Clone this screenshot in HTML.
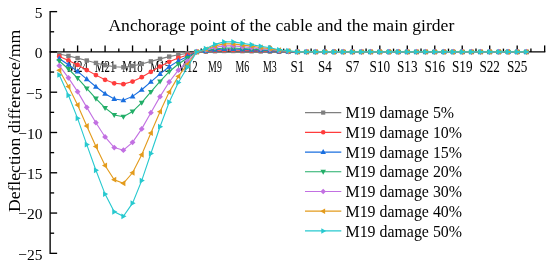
<!DOCTYPE html>
<html lang="en"><head><meta charset="utf-8"><title>Deflection difference chart</title>
<style>html,body{margin:0;padding:0;background:#fff}body{width:550px;height:270px;overflow:hidden}svg{display:block}</style>
</head><body>
<svg width="550" height="270" viewBox="0 0 550 270">
<rect width="550" height="270" fill="#ffffff"/>
<g font-family="'Liberation Serif', serif" font-size="16px" fill="#000" text-anchor="middle">
<text x="77.60" y="71.6" textLength="20.5" lengthAdjust="spacingAndGlyphs">M24</text>
<text x="105.08" y="71.6" textLength="20.5" lengthAdjust="spacingAndGlyphs">M21</text>
<text x="132.55" y="71.6" textLength="20.5" lengthAdjust="spacingAndGlyphs">M18</text>
<text x="160.03" y="71.6" textLength="20.5" lengthAdjust="spacingAndGlyphs">M15</text>
<text x="187.50" y="71.6" textLength="20.5" lengthAdjust="spacingAndGlyphs">M12</text>
<text x="214.97" y="71.6" textLength="13.7" lengthAdjust="spacingAndGlyphs">M9</text>
<text x="242.45" y="71.6" textLength="13.7" lengthAdjust="spacingAndGlyphs">M6</text>
<text x="269.92" y="71.6" textLength="13.7" lengthAdjust="spacingAndGlyphs">M3</text>
<text x="297.40" y="71.6" textLength="13.7" lengthAdjust="spacingAndGlyphs">S1</text>
<text x="324.87" y="71.6" textLength="13.7" lengthAdjust="spacingAndGlyphs">S4</text>
<text x="352.34" y="71.6" textLength="13.7" lengthAdjust="spacingAndGlyphs">S7</text>
<text x="379.82" y="71.6" textLength="20.5" lengthAdjust="spacingAndGlyphs">S10</text>
<text x="407.29" y="71.6" textLength="20.5" lengthAdjust="spacingAndGlyphs">S13</text>
<text x="434.77" y="71.6" textLength="20.5" lengthAdjust="spacingAndGlyphs">S16</text>
<text x="462.24" y="71.6" textLength="20.5" lengthAdjust="spacingAndGlyphs">S19</text>
<text x="489.71" y="71.6" textLength="20.5" lengthAdjust="spacingAndGlyphs">S22</text>
<text x="517.19" y="71.6" textLength="20.5" lengthAdjust="spacingAndGlyphs">S25</text>
</g>
<g stroke="#000" stroke-width="1.35" fill="none" stroke-linecap="butt">
<path d="M50.13 10.95V254.03"/>
<path d="M49.45 51.92H545.34"/>
<path d="M50.13 11.63h7"/>
<path d="M50.13 51.92h7"/>
<path d="M50.13 92.21h7"/>
<path d="M50.13 132.49h7"/>
<path d="M50.13 172.78h7"/>
<path d="M50.13 213.06h7"/>
<path d="M50.13 253.35h7"/>
<path d="M50.13 31.78h4"/>
<path d="M50.13 72.06h4"/>
<path d="M50.13 112.35h4"/>
<path d="M50.13 152.63h4"/>
<path d="M50.13 192.92h4"/>
<path d="M50.13 233.20h4"/>
<path d="M77.60 51.92v-6.5"/>
<path d="M105.08 51.92v-6.5"/>
<path d="M132.55 51.92v-6.5"/>
<path d="M160.03 51.92v-6.5"/>
<path d="M187.50 51.92v-6.5"/>
<path d="M214.97 51.92v-6.5"/>
<path d="M242.45 51.92v-6.5"/>
<path d="M269.92 51.92v-6.5"/>
<path d="M297.40 51.92v-6.5"/>
<path d="M324.87 51.92v-6.5"/>
<path d="M352.34 51.92v-6.5"/>
<path d="M379.82 51.92v-6.5"/>
<path d="M407.29 51.92v-6.5"/>
<path d="M434.77 51.92v-6.5"/>
<path d="M462.24 51.92v-6.5"/>
<path d="M489.71 51.92v-6.5"/>
<path d="M517.19 51.92v-6.5"/>
<path d="M544.66 51.92v-6.5"/>
<path d="M63.87 51.92v-3.3"/>
<path d="M91.34 51.92v-3.3"/>
<path d="M118.81 51.92v-3.3"/>
<path d="M146.29 51.92v-3.3"/>
<path d="M173.76 51.92v-3.3"/>
<path d="M201.24 51.92v-3.3"/>
<path d="M228.71 51.92v-3.3"/>
<path d="M256.19 51.92v-3.3"/>
<path d="M283.66 51.92v-3.3"/>
<path d="M311.13 51.92v-3.3"/>
<path d="M338.61 51.92v-3.3"/>
<path d="M366.08 51.92v-3.3"/>
<path d="M393.55 51.92v-3.3"/>
<path d="M421.03 51.92v-3.3"/>
<path d="M448.50 51.92v-3.3"/>
<path d="M475.98 51.92v-3.3"/>
<path d="M503.45 51.92v-3.3"/>
<path d="M530.92 51.92v-3.3"/>
</g>
<g font-family="'Liberation Serif', serif" font-size="15.5px" fill="#000" text-anchor="end">
<text x="42.6" y="18.03">5</text>
<text x="42.6" y="58.32">0</text>
<text x="42.6" y="98.61">−5</text>
<text x="42.6" y="138.89">−10</text>
<text x="42.6" y="179.18">−15</text>
<text x="42.6" y="219.46">−20</text>
<text x="42.6" y="259.75">−25</text>
</g>
<text transform="translate(20,120.9) rotate(-90)" text-anchor="middle" font-family="'Liberation Serif', serif" font-size="17.65px" fill="#000">Deflection difference/mm</text>
<text x="108.4" y="31" font-family="'Liberation Serif', serif" font-size="17.6px" fill="#000">Anchorage point of the cable and the main girder</text>
<polyline fill="none" stroke="#7f7f7f" stroke-width="1.1" points="59.29,54.06 68.45,55.96 77.60,58.10 86.76,60.55 95.92,62.94 105.08,65.16 114.24,66.81 123.39,67.23 132.55,66.00 141.71,63.91 150.87,61.38 160.03,58.89 169.18,56.60 178.34,54.77 187.50,53.34 196.66,51.92 205.82,51.61 214.97,51.22 224.13,50.99 233.29,50.99 242.45,51.12 251.61,51.25 260.76,51.40 269.92,51.54 279.08,51.72 288.24,51.81 297.40,51.92 306.55,51.92 315.71,51.92 324.87,51.92 334.03,51.92 343.19,51.92 352.34,51.92 361.50,51.92 370.66,51.92 379.82,51.92 388.98,51.92 398.13,51.92 407.29,51.92 416.45,51.92 425.61,51.92 434.77,51.92 443.92,51.92 453.08,51.92 462.24,51.92 471.40,51.92 480.56,51.92 489.71,51.92 498.87,51.92 508.03,51.92 517.19,51.92 526.35,51.92"/>
<g><rect x="57.09" y="51.86" width="4.40" height="4.40" fill="#7f7f7f"/><rect x="66.25" y="53.76" width="4.40" height="4.40" fill="#7f7f7f"/><rect x="75.40" y="55.90" width="4.40" height="4.40" fill="#7f7f7f"/><rect x="84.56" y="58.35" width="4.40" height="4.40" fill="#7f7f7f"/><rect x="93.72" y="60.74" width="4.40" height="4.40" fill="#7f7f7f"/><rect x="102.88" y="62.96" width="4.40" height="4.40" fill="#7f7f7f"/><rect x="112.04" y="64.61" width="4.40" height="4.40" fill="#7f7f7f"/><rect x="121.19" y="65.03" width="4.40" height="4.40" fill="#7f7f7f"/><rect x="130.35" y="63.80" width="4.40" height="4.40" fill="#7f7f7f"/><rect x="139.51" y="61.71" width="4.40" height="4.40" fill="#7f7f7f"/><rect x="148.67" y="59.18" width="4.40" height="4.40" fill="#7f7f7f"/><rect x="157.83" y="56.69" width="4.40" height="4.40" fill="#7f7f7f"/><rect x="166.98" y="54.40" width="4.40" height="4.40" fill="#7f7f7f"/><rect x="176.14" y="52.57" width="4.40" height="4.40" fill="#7f7f7f"/><rect x="185.30" y="51.14" width="4.40" height="4.40" fill="#7f7f7f"/><rect x="194.46" y="49.72" width="4.40" height="4.40" fill="#7f7f7f"/><rect x="203.62" y="49.41" width="4.40" height="4.40" fill="#7f7f7f"/><rect x="212.77" y="49.02" width="4.40" height="4.40" fill="#7f7f7f"/><rect x="221.93" y="48.79" width="4.40" height="4.40" fill="#7f7f7f"/><rect x="231.09" y="48.79" width="4.40" height="4.40" fill="#7f7f7f"/><rect x="240.25" y="48.92" width="4.40" height="4.40" fill="#7f7f7f"/><rect x="249.41" y="49.05" width="4.40" height="4.40" fill="#7f7f7f"/><rect x="258.56" y="49.20" width="4.40" height="4.40" fill="#7f7f7f"/><rect x="267.72" y="49.34" width="4.40" height="4.40" fill="#7f7f7f"/><rect x="276.88" y="49.52" width="4.40" height="4.40" fill="#7f7f7f"/><rect x="286.04" y="49.61" width="4.40" height="4.40" fill="#7f7f7f"/><rect x="295.20" y="49.72" width="4.40" height="4.40" fill="#7f7f7f"/><rect x="304.35" y="49.72" width="4.40" height="4.40" fill="#7f7f7f"/><rect x="313.51" y="49.72" width="4.40" height="4.40" fill="#7f7f7f"/><rect x="322.67" y="49.72" width="4.40" height="4.40" fill="#7f7f7f"/><rect x="331.83" y="49.72" width="4.40" height="4.40" fill="#7f7f7f"/><rect x="340.99" y="49.72" width="4.40" height="4.40" fill="#7f7f7f"/><rect x="350.14" y="49.72" width="4.40" height="4.40" fill="#7f7f7f"/><rect x="359.30" y="49.72" width="4.40" height="4.40" fill="#7f7f7f"/><rect x="368.46" y="49.72" width="4.40" height="4.40" fill="#7f7f7f"/><rect x="377.62" y="49.72" width="4.40" height="4.40" fill="#7f7f7f"/><rect x="386.78" y="49.72" width="4.40" height="4.40" fill="#7f7f7f"/><rect x="395.93" y="49.72" width="4.40" height="4.40" fill="#7f7f7f"/><rect x="405.09" y="49.72" width="4.40" height="4.40" fill="#7f7f7f"/><rect x="414.25" y="49.72" width="4.40" height="4.40" fill="#7f7f7f"/><rect x="423.41" y="49.72" width="4.40" height="4.40" fill="#7f7f7f"/><rect x="432.57" y="49.72" width="4.40" height="4.40" fill="#7f7f7f"/><rect x="441.72" y="49.72" width="4.40" height="4.40" fill="#7f7f7f"/><rect x="450.88" y="49.72" width="4.40" height="4.40" fill="#7f7f7f"/><rect x="460.04" y="49.72" width="4.40" height="4.40" fill="#7f7f7f"/><rect x="469.20" y="49.72" width="4.40" height="4.40" fill="#7f7f7f"/><rect x="478.36" y="49.72" width="4.40" height="4.40" fill="#7f7f7f"/><rect x="487.51" y="49.72" width="4.40" height="4.40" fill="#7f7f7f"/><rect x="496.67" y="49.72" width="4.40" height="4.40" fill="#7f7f7f"/><rect x="505.83" y="49.72" width="4.40" height="4.40" fill="#7f7f7f"/><rect x="514.99" y="49.72" width="4.40" height="4.40" fill="#7f7f7f"/><rect x="524.15" y="49.72" width="4.40" height="4.40" fill="#7f7f7f"/></g>
<polyline fill="none" stroke="#ff3c3c" stroke-width="1.1" points="59.29,56.43 68.45,60.43 77.60,64.94 86.76,70.10 95.92,75.12 105.08,79.80 114.24,83.28 123.39,84.15 132.55,81.57 141.71,77.15 150.87,71.84 160.03,66.58 169.18,61.78 178.34,57.91 187.50,54.92 196.66,51.92 205.82,51.28 214.97,50.44 224.13,49.95 233.29,49.95 242.45,50.24 251.61,50.50 260.76,50.82 269.92,51.11 279.08,51.50 288.24,51.69 297.40,51.92 306.55,51.92 315.71,51.92 324.87,51.92 334.03,51.92 343.19,51.92 352.34,51.92 361.50,51.92 370.66,51.92 379.82,51.92 388.98,51.92 398.13,51.92 407.29,51.92 416.45,51.92 425.61,51.92 434.77,51.92 443.92,51.92 453.08,51.92 462.24,51.92 471.40,51.92 480.56,51.92 489.71,51.92 498.87,51.92 508.03,51.92 517.19,51.92 526.35,51.92"/>
<g><circle cx="59.29" cy="56.43" r="2.40" fill="#ff3c3c"/><circle cx="68.45" cy="60.43" r="2.40" fill="#ff3c3c"/><circle cx="77.60" cy="64.94" r="2.40" fill="#ff3c3c"/><circle cx="86.76" cy="70.10" r="2.40" fill="#ff3c3c"/><circle cx="95.92" cy="75.12" r="2.40" fill="#ff3c3c"/><circle cx="105.08" cy="79.80" r="2.40" fill="#ff3c3c"/><circle cx="114.24" cy="83.28" r="2.40" fill="#ff3c3c"/><circle cx="123.39" cy="84.15" r="2.40" fill="#ff3c3c"/><circle cx="132.55" cy="81.57" r="2.40" fill="#ff3c3c"/><circle cx="141.71" cy="77.15" r="2.40" fill="#ff3c3c"/><circle cx="150.87" cy="71.84" r="2.40" fill="#ff3c3c"/><circle cx="160.03" cy="66.58" r="2.40" fill="#ff3c3c"/><circle cx="169.18" cy="61.78" r="2.40" fill="#ff3c3c"/><circle cx="178.34" cy="57.91" r="2.40" fill="#ff3c3c"/><circle cx="187.50" cy="54.92" r="2.40" fill="#ff3c3c"/><circle cx="196.66" cy="51.92" r="2.40" fill="#ff3c3c"/><circle cx="205.82" cy="51.28" r="2.40" fill="#ff3c3c"/><circle cx="214.97" cy="50.44" r="2.40" fill="#ff3c3c"/><circle cx="224.13" cy="49.95" r="2.40" fill="#ff3c3c"/><circle cx="233.29" cy="49.95" r="2.40" fill="#ff3c3c"/><circle cx="242.45" cy="50.24" r="2.40" fill="#ff3c3c"/><circle cx="251.61" cy="50.50" r="2.40" fill="#ff3c3c"/><circle cx="260.76" cy="50.82" r="2.40" fill="#ff3c3c"/><circle cx="269.92" cy="51.11" r="2.40" fill="#ff3c3c"/><circle cx="279.08" cy="51.50" r="2.40" fill="#ff3c3c"/><circle cx="288.24" cy="51.69" r="2.40" fill="#ff3c3c"/><circle cx="297.40" cy="51.92" r="2.40" fill="#ff3c3c"/><circle cx="306.55" cy="51.92" r="2.40" fill="#ff3c3c"/><circle cx="315.71" cy="51.92" r="2.40" fill="#ff3c3c"/><circle cx="324.87" cy="51.92" r="2.40" fill="#ff3c3c"/><circle cx="334.03" cy="51.92" r="2.40" fill="#ff3c3c"/><circle cx="343.19" cy="51.92" r="2.40" fill="#ff3c3c"/><circle cx="352.34" cy="51.92" r="2.40" fill="#ff3c3c"/><circle cx="361.50" cy="51.92" r="2.40" fill="#ff3c3c"/><circle cx="370.66" cy="51.92" r="2.40" fill="#ff3c3c"/><circle cx="379.82" cy="51.92" r="2.40" fill="#ff3c3c"/><circle cx="388.98" cy="51.92" r="2.40" fill="#ff3c3c"/><circle cx="398.13" cy="51.92" r="2.40" fill="#ff3c3c"/><circle cx="407.29" cy="51.92" r="2.40" fill="#ff3c3c"/><circle cx="416.45" cy="51.92" r="2.40" fill="#ff3c3c"/><circle cx="425.61" cy="51.92" r="2.40" fill="#ff3c3c"/><circle cx="434.77" cy="51.92" r="2.40" fill="#ff3c3c"/><circle cx="443.92" cy="51.92" r="2.40" fill="#ff3c3c"/><circle cx="453.08" cy="51.92" r="2.40" fill="#ff3c3c"/><circle cx="462.24" cy="51.92" r="2.40" fill="#ff3c3c"/><circle cx="471.40" cy="51.92" r="2.40" fill="#ff3c3c"/><circle cx="480.56" cy="51.92" r="2.40" fill="#ff3c3c"/><circle cx="489.71" cy="51.92" r="2.40" fill="#ff3c3c"/><circle cx="498.87" cy="51.92" r="2.40" fill="#ff3c3c"/><circle cx="508.03" cy="51.92" r="2.40" fill="#ff3c3c"/><circle cx="517.19" cy="51.92" r="2.40" fill="#ff3c3c"/><circle cx="526.35" cy="51.92" r="2.40" fill="#ff3c3c"/></g>
<polyline fill="none" stroke="#1a6fdf" stroke-width="1.1" points="59.29,58.69 68.45,64.68 77.60,71.45 86.76,79.18 95.92,86.73 105.08,93.74 114.24,98.96 123.39,100.26 132.55,96.39 141.71,89.77 150.87,81.80 160.03,73.92 169.18,66.71 178.34,60.91 187.50,56.42 196.66,51.92 205.82,50.95 214.97,49.70 224.13,48.97 233.29,48.97 242.45,49.41 251.61,49.79 260.76,50.28 269.92,50.71 279.08,51.29 288.24,51.58 297.40,51.92 306.55,51.92 315.71,51.92 324.87,51.92 334.03,51.92 343.19,51.92 352.34,51.92 361.50,51.92 370.66,51.92 379.82,51.92 388.98,51.92 398.13,51.92 407.29,51.92 416.45,51.92 425.61,51.92 434.77,51.92 443.92,51.92 453.08,51.92 462.24,51.92 471.40,51.92 480.56,51.92 489.71,51.92 498.87,51.92 508.03,51.92 517.19,51.92 526.35,51.92"/>
<g><polygon points="59.29,55.59 62.19,60.69 56.39,60.69" fill="#1a6fdf"/><polygon points="68.45,61.58 71.35,66.68 65.55,66.68" fill="#1a6fdf"/><polygon points="77.60,68.35 80.50,73.45 74.70,73.45" fill="#1a6fdf"/><polygon points="86.76,76.08 89.66,81.18 83.86,81.18" fill="#1a6fdf"/><polygon points="95.92,83.63 98.82,88.73 93.02,88.73" fill="#1a6fdf"/><polygon points="105.08,90.64 107.98,95.74 102.18,95.74" fill="#1a6fdf"/><polygon points="114.24,95.86 117.14,100.96 111.34,100.96" fill="#1a6fdf"/><polygon points="123.39,97.16 126.29,102.26 120.49,102.26" fill="#1a6fdf"/><polygon points="132.55,93.29 135.45,98.39 129.65,98.39" fill="#1a6fdf"/><polygon points="141.71,86.67 144.61,91.77 138.81,91.77" fill="#1a6fdf"/><polygon points="150.87,78.70 153.77,83.80 147.97,83.80" fill="#1a6fdf"/><polygon points="160.03,70.82 162.93,75.92 157.13,75.92" fill="#1a6fdf"/><polygon points="169.18,63.61 172.08,68.71 166.28,68.71" fill="#1a6fdf"/><polygon points="178.34,57.81 181.24,62.91 175.44,62.91" fill="#1a6fdf"/><polygon points="187.50,53.32 190.40,58.42 184.60,58.42" fill="#1a6fdf"/><polygon points="196.66,48.82 199.56,53.92 193.76,53.92" fill="#1a6fdf"/><polygon points="205.82,47.85 208.72,52.95 202.92,52.95" fill="#1a6fdf"/><polygon points="214.97,46.60 217.87,51.70 212.07,51.70" fill="#1a6fdf"/><polygon points="224.13,45.87 227.03,50.97 221.23,50.97" fill="#1a6fdf"/><polygon points="233.29,45.87 236.19,50.97 230.39,50.97" fill="#1a6fdf"/><polygon points="242.45,46.31 245.35,51.41 239.55,51.41" fill="#1a6fdf"/><polygon points="251.61,46.69 254.51,51.79 248.71,51.79" fill="#1a6fdf"/><polygon points="260.76,47.18 263.66,52.28 257.86,52.28" fill="#1a6fdf"/><polygon points="269.92,47.61 272.82,52.71 267.02,52.71" fill="#1a6fdf"/><polygon points="279.08,48.19 281.98,53.29 276.18,53.29" fill="#1a6fdf"/><polygon points="288.24,48.48 291.14,53.58 285.34,53.58" fill="#1a6fdf"/><polygon points="297.40,48.82 300.30,53.92 294.50,53.92" fill="#1a6fdf"/><polygon points="306.55,48.82 309.45,53.92 303.65,53.92" fill="#1a6fdf"/><polygon points="315.71,48.82 318.61,53.92 312.81,53.92" fill="#1a6fdf"/><polygon points="324.87,48.82 327.77,53.92 321.97,53.92" fill="#1a6fdf"/><polygon points="334.03,48.82 336.93,53.92 331.13,53.92" fill="#1a6fdf"/><polygon points="343.19,48.82 346.09,53.92 340.29,53.92" fill="#1a6fdf"/><polygon points="352.34,48.82 355.24,53.92 349.44,53.92" fill="#1a6fdf"/><polygon points="361.50,48.82 364.40,53.92 358.60,53.92" fill="#1a6fdf"/><polygon points="370.66,48.82 373.56,53.92 367.76,53.92" fill="#1a6fdf"/><polygon points="379.82,48.82 382.72,53.92 376.92,53.92" fill="#1a6fdf"/><polygon points="388.98,48.82 391.88,53.92 386.08,53.92" fill="#1a6fdf"/><polygon points="398.13,48.82 401.03,53.92 395.23,53.92" fill="#1a6fdf"/><polygon points="407.29,48.82 410.19,53.92 404.39,53.92" fill="#1a6fdf"/><polygon points="416.45,48.82 419.35,53.92 413.55,53.92" fill="#1a6fdf"/><polygon points="425.61,48.82 428.51,53.92 422.71,53.92" fill="#1a6fdf"/><polygon points="434.77,48.82 437.67,53.92 431.87,53.92" fill="#1a6fdf"/><polygon points="443.92,48.82 446.82,53.92 441.02,53.92" fill="#1a6fdf"/><polygon points="453.08,48.82 455.98,53.92 450.18,53.92" fill="#1a6fdf"/><polygon points="462.24,48.82 465.14,53.92 459.34,53.92" fill="#1a6fdf"/><polygon points="471.40,48.82 474.30,53.92 468.50,53.92" fill="#1a6fdf"/><polygon points="480.56,48.82 483.46,53.92 477.66,53.92" fill="#1a6fdf"/><polygon points="489.71,48.82 492.61,53.92 486.81,53.92" fill="#1a6fdf"/><polygon points="498.87,48.82 501.77,53.92 495.97,53.92" fill="#1a6fdf"/><polygon points="508.03,48.82 510.93,53.92 505.13,53.92" fill="#1a6fdf"/><polygon points="517.19,48.82 520.09,53.92 514.29,53.92" fill="#1a6fdf"/><polygon points="526.35,48.82 529.25,53.92 523.45,53.92" fill="#1a6fdf"/></g>
<polyline fill="none" stroke="#22ae68" stroke-width="1.1" points="59.29,60.99 68.45,69.02 77.60,78.09 86.76,88.45 95.92,98.56 105.08,107.95 114.24,114.95 123.39,116.70 132.55,111.52 141.71,102.64 150.87,91.95 160.03,81.39 169.18,71.74 178.34,63.97 187.50,57.94 196.66,51.92 205.82,50.62 214.97,48.94 224.13,47.97 233.29,47.97 242.45,48.55 251.61,49.07 260.76,49.72 269.92,50.30 279.08,51.08 288.24,51.47 297.40,51.92 306.55,51.92 315.71,51.92 324.87,51.92 334.03,51.92 343.19,51.92 352.34,51.92 361.50,51.92 370.66,51.92 379.82,51.92 388.98,51.92 398.13,51.92 407.29,51.92 416.45,51.92 425.61,51.92 434.77,51.92 443.92,51.92 453.08,51.92 462.24,51.92 471.40,51.92 480.56,51.92 489.71,51.92 498.87,51.92 508.03,51.92 517.19,51.92 526.35,51.92"/>
<g><polygon points="59.29,64.09 62.19,58.99 56.39,58.99" fill="#22ae68"/><polygon points="68.45,72.12 71.35,67.02 65.55,67.02" fill="#22ae68"/><polygon points="77.60,81.19 80.50,76.09 74.70,76.09" fill="#22ae68"/><polygon points="86.76,91.55 89.66,86.45 83.86,86.45" fill="#22ae68"/><polygon points="95.92,101.66 98.82,96.56 93.02,96.56" fill="#22ae68"/><polygon points="105.08,111.05 107.98,105.95 102.18,105.95" fill="#22ae68"/><polygon points="114.24,118.05 117.14,112.95 111.34,112.95" fill="#22ae68"/><polygon points="123.39,119.80 126.29,114.70 120.49,114.70" fill="#22ae68"/><polygon points="132.55,114.62 135.45,109.52 129.65,109.52" fill="#22ae68"/><polygon points="141.71,105.74 144.61,100.64 138.81,100.64" fill="#22ae68"/><polygon points="150.87,95.05 153.77,89.95 147.97,89.95" fill="#22ae68"/><polygon points="160.03,84.49 162.93,79.39 157.13,79.39" fill="#22ae68"/><polygon points="169.18,74.84 172.08,69.74 166.28,69.74" fill="#22ae68"/><polygon points="178.34,67.07 181.24,61.97 175.44,61.97" fill="#22ae68"/><polygon points="187.50,61.04 190.40,55.94 184.60,55.94" fill="#22ae68"/><polygon points="196.66,55.02 199.56,49.92 193.76,49.92" fill="#22ae68"/><polygon points="205.82,53.72 208.72,48.62 202.92,48.62" fill="#22ae68"/><polygon points="214.97,52.04 217.87,46.94 212.07,46.94" fill="#22ae68"/><polygon points="224.13,51.07 227.03,45.97 221.23,45.97" fill="#22ae68"/><polygon points="233.29,51.07 236.19,45.97 230.39,45.97" fill="#22ae68"/><polygon points="242.45,51.65 245.35,46.55 239.55,46.55" fill="#22ae68"/><polygon points="251.61,52.17 254.51,47.07 248.71,47.07" fill="#22ae68"/><polygon points="260.76,52.82 263.66,47.72 257.86,47.72" fill="#22ae68"/><polygon points="269.92,53.40 272.82,48.30 267.02,48.30" fill="#22ae68"/><polygon points="279.08,54.18 281.98,49.08 276.18,49.08" fill="#22ae68"/><polygon points="288.24,54.57 291.14,49.47 285.34,49.47" fill="#22ae68"/><polygon points="297.40,55.02 300.30,49.92 294.50,49.92" fill="#22ae68"/><polygon points="306.55,55.02 309.45,49.92 303.65,49.92" fill="#22ae68"/><polygon points="315.71,55.02 318.61,49.92 312.81,49.92" fill="#22ae68"/><polygon points="324.87,55.02 327.77,49.92 321.97,49.92" fill="#22ae68"/><polygon points="334.03,55.02 336.93,49.92 331.13,49.92" fill="#22ae68"/><polygon points="343.19,55.02 346.09,49.92 340.29,49.92" fill="#22ae68"/><polygon points="352.34,55.02 355.24,49.92 349.44,49.92" fill="#22ae68"/><polygon points="361.50,55.02 364.40,49.92 358.60,49.92" fill="#22ae68"/><polygon points="370.66,55.02 373.56,49.92 367.76,49.92" fill="#22ae68"/><polygon points="379.82,55.02 382.72,49.92 376.92,49.92" fill="#22ae68"/><polygon points="388.98,55.02 391.88,49.92 386.08,49.92" fill="#22ae68"/><polygon points="398.13,55.02 401.03,49.92 395.23,49.92" fill="#22ae68"/><polygon points="407.29,55.02 410.19,49.92 404.39,49.92" fill="#22ae68"/><polygon points="416.45,55.02 419.35,49.92 413.55,49.92" fill="#22ae68"/><polygon points="425.61,55.02 428.51,49.92 422.71,49.92" fill="#22ae68"/><polygon points="434.77,55.02 437.67,49.92 431.87,49.92" fill="#22ae68"/><polygon points="443.92,55.02 446.82,49.92 441.02,49.92" fill="#22ae68"/><polygon points="453.08,55.02 455.98,49.92 450.18,49.92" fill="#22ae68"/><polygon points="462.24,55.02 465.14,49.92 459.34,49.92" fill="#22ae68"/><polygon points="471.40,55.02 474.30,49.92 468.50,49.92" fill="#22ae68"/><polygon points="480.56,55.02 483.46,49.92 477.66,49.92" fill="#22ae68"/><polygon points="489.71,55.02 492.61,49.92 486.81,49.92" fill="#22ae68"/><polygon points="498.87,55.02 501.77,49.92 495.97,49.92" fill="#22ae68"/><polygon points="508.03,55.02 510.93,49.92 505.13,49.92" fill="#22ae68"/><polygon points="517.19,55.02 520.09,49.92 514.29,49.92" fill="#22ae68"/><polygon points="526.35,55.02 529.25,49.92 523.45,49.92" fill="#22ae68"/></g>
<polyline fill="none" stroke="#c270e2" stroke-width="1.1" points="59.29,65.68 68.45,77.87 77.60,91.63 86.76,107.36 95.92,122.69 105.08,136.95 114.24,147.56 123.39,150.22 132.55,142.35 141.71,128.89 150.87,112.67 160.03,96.64 169.18,82.00 178.34,70.20 187.50,61.06 196.66,51.92 205.82,49.95 214.97,47.40 224.13,45.92 233.29,45.92 242.45,46.81 251.61,47.60 260.76,48.58 269.92,49.46 279.08,50.64 288.24,51.23 297.40,51.92 306.55,51.92 315.71,51.92 324.87,51.92 334.03,51.92 343.19,51.92 352.34,51.92 361.50,51.92 370.66,51.92 379.82,51.92 388.98,51.92 398.13,51.92 407.29,51.92 416.45,51.92 425.61,51.92 434.77,51.92 443.92,51.92 453.08,51.92 462.24,51.92 471.40,51.92 480.56,51.92 489.71,51.92 498.87,51.92 508.03,51.92 517.19,51.92 526.35,51.92"/>
<g><polygon points="59.29,62.78 62.19,65.68 59.29,68.58 56.39,65.68" fill="#c270e2"/><polygon points="68.45,74.97 71.35,77.87 68.45,80.77 65.55,77.87" fill="#c270e2"/><polygon points="77.60,88.73 80.50,91.63 77.60,94.53 74.70,91.63" fill="#c270e2"/><polygon points="86.76,104.46 89.66,107.36 86.76,110.26 83.86,107.36" fill="#c270e2"/><polygon points="95.92,119.79 98.82,122.69 95.92,125.59 93.02,122.69" fill="#c270e2"/><polygon points="105.08,134.05 107.98,136.95 105.08,139.85 102.18,136.95" fill="#c270e2"/><polygon points="114.24,144.66 117.14,147.56 114.24,150.46 111.34,147.56" fill="#c270e2"/><polygon points="123.39,147.32 126.29,150.22 123.39,153.12 120.49,150.22" fill="#c270e2"/><polygon points="132.55,139.45 135.45,142.35 132.55,145.25 129.65,142.35" fill="#c270e2"/><polygon points="141.71,125.99 144.61,128.89 141.71,131.79 138.81,128.89" fill="#c270e2"/><polygon points="150.87,109.77 153.77,112.67 150.87,115.57 147.97,112.67" fill="#c270e2"/><polygon points="160.03,93.74 162.93,96.64 160.03,99.54 157.13,96.64" fill="#c270e2"/><polygon points="169.18,79.10 172.08,82.00 169.18,84.90 166.28,82.00" fill="#c270e2"/><polygon points="178.34,67.30 181.24,70.20 178.34,73.10 175.44,70.20" fill="#c270e2"/><polygon points="187.50,58.16 190.40,61.06 187.50,63.96 184.60,61.06" fill="#c270e2"/><polygon points="196.66,49.02 199.56,51.92 196.66,54.82 193.76,51.92" fill="#c270e2"/><polygon points="205.82,47.05 208.72,49.95 205.82,52.85 202.92,49.95" fill="#c270e2"/><polygon points="214.97,44.50 217.87,47.40 214.97,50.30 212.07,47.40" fill="#c270e2"/><polygon points="224.13,43.02 227.03,45.92 224.13,48.82 221.23,45.92" fill="#c270e2"/><polygon points="233.29,43.02 236.19,45.92 233.29,48.82 230.39,45.92" fill="#c270e2"/><polygon points="242.45,43.91 245.35,46.81 242.45,49.71 239.55,46.81" fill="#c270e2"/><polygon points="251.61,44.70 254.51,47.60 251.61,50.50 248.71,47.60" fill="#c270e2"/><polygon points="260.76,45.68 263.66,48.58 260.76,51.48 257.86,48.58" fill="#c270e2"/><polygon points="269.92,46.56 272.82,49.46 269.92,52.36 267.02,49.46" fill="#c270e2"/><polygon points="279.08,47.74 281.98,50.64 279.08,53.54 276.18,50.64" fill="#c270e2"/><polygon points="288.24,48.33 291.14,51.23 288.24,54.13 285.34,51.23" fill="#c270e2"/><polygon points="297.40,49.02 300.30,51.92 297.40,54.82 294.50,51.92" fill="#c270e2"/><polygon points="306.55,49.02 309.45,51.92 306.55,54.82 303.65,51.92" fill="#c270e2"/><polygon points="315.71,49.02 318.61,51.92 315.71,54.82 312.81,51.92" fill="#c270e2"/><polygon points="324.87,49.02 327.77,51.92 324.87,54.82 321.97,51.92" fill="#c270e2"/><polygon points="334.03,49.02 336.93,51.92 334.03,54.82 331.13,51.92" fill="#c270e2"/><polygon points="343.19,49.02 346.09,51.92 343.19,54.82 340.29,51.92" fill="#c270e2"/><polygon points="352.34,49.02 355.24,51.92 352.34,54.82 349.44,51.92" fill="#c270e2"/><polygon points="361.50,49.02 364.40,51.92 361.50,54.82 358.60,51.92" fill="#c270e2"/><polygon points="370.66,49.02 373.56,51.92 370.66,54.82 367.76,51.92" fill="#c270e2"/><polygon points="379.82,49.02 382.72,51.92 379.82,54.82 376.92,51.92" fill="#c270e2"/><polygon points="388.98,49.02 391.88,51.92 388.98,54.82 386.08,51.92" fill="#c270e2"/><polygon points="398.13,49.02 401.03,51.92 398.13,54.82 395.23,51.92" fill="#c270e2"/><polygon points="407.29,49.02 410.19,51.92 407.29,54.82 404.39,51.92" fill="#c270e2"/><polygon points="416.45,49.02 419.35,51.92 416.45,54.82 413.55,51.92" fill="#c270e2"/><polygon points="425.61,49.02 428.51,51.92 425.61,54.82 422.71,51.92" fill="#c270e2"/><polygon points="434.77,49.02 437.67,51.92 434.77,54.82 431.87,51.92" fill="#c270e2"/><polygon points="443.92,49.02 446.82,51.92 443.92,54.82 441.02,51.92" fill="#c270e2"/><polygon points="453.08,49.02 455.98,51.92 453.08,54.82 450.18,51.92" fill="#c270e2"/><polygon points="462.24,49.02 465.14,51.92 462.24,54.82 459.34,51.92" fill="#c270e2"/><polygon points="471.40,49.02 474.30,51.92 471.40,54.82 468.50,51.92" fill="#c270e2"/><polygon points="480.56,49.02 483.46,51.92 480.56,54.82 477.66,51.92" fill="#c270e2"/><polygon points="489.71,49.02 492.61,51.92 489.71,54.82 486.81,51.92" fill="#c270e2"/><polygon points="498.87,49.02 501.77,51.92 498.87,54.82 495.97,51.92" fill="#c270e2"/><polygon points="508.03,49.02 510.93,51.92 508.03,54.82 505.13,51.92" fill="#c270e2"/><polygon points="517.19,49.02 520.09,51.92 517.19,54.82 514.29,51.92" fill="#c270e2"/><polygon points="526.35,49.02 529.25,51.92 526.35,54.82 523.45,51.92" fill="#c270e2"/></g>
<polyline fill="none" stroke="#e39b1c" stroke-width="1.1" points="59.29,70.31 68.45,86.59 77.60,104.98 86.76,125.99 95.92,146.48 105.08,165.52 114.24,179.70 123.39,183.25 132.55,172.74 141.71,154.75 150.87,133.08 160.03,111.67 169.18,92.11 178.34,76.35 187.50,64.13 196.66,51.92 205.82,49.29 214.97,45.88 224.13,43.91 233.29,43.91 242.45,45.09 251.61,46.14 260.76,47.45 269.92,48.64 279.08,50.21 288.24,51.00 297.40,51.92 306.55,51.92 315.71,51.92 324.87,51.92 334.03,51.92 343.19,51.92 352.34,51.92 361.50,51.92 370.66,51.92 379.82,51.92 388.98,51.92 398.13,51.92 407.29,51.92 416.45,51.92 425.61,51.92 434.77,51.92 443.92,51.92 453.08,51.92 462.24,51.92 471.40,51.92 480.56,51.92 489.71,51.92 498.87,51.92 508.03,51.92 517.19,51.92 526.35,51.92"/>
<g><polygon points="56.19,70.31 61.29,67.41 61.29,73.21" fill="#e39b1c"/><polygon points="65.35,86.59 70.45,83.69 70.45,89.49" fill="#e39b1c"/><polygon points="74.50,104.98 79.60,102.08 79.60,107.88" fill="#e39b1c"/><polygon points="83.66,125.99 88.76,123.09 88.76,128.89" fill="#e39b1c"/><polygon points="92.82,146.48 97.92,143.58 97.92,149.38" fill="#e39b1c"/><polygon points="101.98,165.52 107.08,162.62 107.08,168.42" fill="#e39b1c"/><polygon points="111.14,179.70 116.24,176.80 116.24,182.60" fill="#e39b1c"/><polygon points="120.29,183.25 125.39,180.35 125.39,186.15" fill="#e39b1c"/><polygon points="129.45,172.74 134.55,169.84 134.55,175.64" fill="#e39b1c"/><polygon points="138.61,154.75 143.71,151.85 143.71,157.65" fill="#e39b1c"/><polygon points="147.77,133.08 152.87,130.18 152.87,135.98" fill="#e39b1c"/><polygon points="156.93,111.67 162.03,108.77 162.03,114.57" fill="#e39b1c"/><polygon points="166.08,92.11 171.18,89.21 171.18,95.01" fill="#e39b1c"/><polygon points="175.24,76.35 180.34,73.45 180.34,79.25" fill="#e39b1c"/><polygon points="184.40,64.13 189.50,61.23 189.50,67.03" fill="#e39b1c"/><polygon points="193.56,51.92 198.66,49.02 198.66,54.82" fill="#e39b1c"/><polygon points="202.72,49.29 207.82,46.39 207.82,52.19" fill="#e39b1c"/><polygon points="211.87,45.88 216.97,42.98 216.97,48.78" fill="#e39b1c"/><polygon points="221.03,43.91 226.13,41.01 226.13,46.81" fill="#e39b1c"/><polygon points="230.19,43.91 235.29,41.01 235.29,46.81" fill="#e39b1c"/><polygon points="239.35,45.09 244.45,42.19 244.45,47.99" fill="#e39b1c"/><polygon points="248.51,46.14 253.61,43.24 253.61,49.04" fill="#e39b1c"/><polygon points="257.66,47.45 262.76,44.55 262.76,50.35" fill="#e39b1c"/><polygon points="266.82,48.64 271.92,45.74 271.92,51.54" fill="#e39b1c"/><polygon points="275.98,50.21 281.08,47.31 281.08,53.11" fill="#e39b1c"/><polygon points="285.14,51.00 290.24,48.10 290.24,53.90" fill="#e39b1c"/><polygon points="294.30,51.92 299.40,49.02 299.40,54.82" fill="#e39b1c"/><polygon points="303.45,51.92 308.55,49.02 308.55,54.82" fill="#e39b1c"/><polygon points="312.61,51.92 317.71,49.02 317.71,54.82" fill="#e39b1c"/><polygon points="321.77,51.92 326.87,49.02 326.87,54.82" fill="#e39b1c"/><polygon points="330.93,51.92 336.03,49.02 336.03,54.82" fill="#e39b1c"/><polygon points="340.09,51.92 345.19,49.02 345.19,54.82" fill="#e39b1c"/><polygon points="349.24,51.92 354.34,49.02 354.34,54.82" fill="#e39b1c"/><polygon points="358.40,51.92 363.50,49.02 363.50,54.82" fill="#e39b1c"/><polygon points="367.56,51.92 372.66,49.02 372.66,54.82" fill="#e39b1c"/><polygon points="376.72,51.92 381.82,49.02 381.82,54.82" fill="#e39b1c"/><polygon points="385.88,51.92 390.98,49.02 390.98,54.82" fill="#e39b1c"/><polygon points="395.03,51.92 400.13,49.02 400.13,54.82" fill="#e39b1c"/><polygon points="404.19,51.92 409.29,49.02 409.29,54.82" fill="#e39b1c"/><polygon points="413.35,51.92 418.45,49.02 418.45,54.82" fill="#e39b1c"/><polygon points="422.51,51.92 427.61,49.02 427.61,54.82" fill="#e39b1c"/><polygon points="431.67,51.92 436.77,49.02 436.77,54.82" fill="#e39b1c"/><polygon points="440.82,51.92 445.92,49.02 445.92,54.82" fill="#e39b1c"/><polygon points="449.98,51.92 455.08,49.02 455.08,54.82" fill="#e39b1c"/><polygon points="459.14,51.92 464.24,49.02 464.24,54.82" fill="#e39b1c"/><polygon points="468.30,51.92 473.40,49.02 473.40,54.82" fill="#e39b1c"/><polygon points="477.46,51.92 482.56,49.02 482.56,54.82" fill="#e39b1c"/><polygon points="486.61,51.92 491.71,49.02 491.71,54.82" fill="#e39b1c"/><polygon points="495.77,51.92 500.87,49.02 500.87,54.82" fill="#e39b1c"/><polygon points="504.93,51.92 510.03,49.02 510.03,54.82" fill="#e39b1c"/><polygon points="514.09,51.92 519.19,49.02 519.19,54.82" fill="#e39b1c"/><polygon points="523.25,51.92 528.35,49.02 528.35,54.82" fill="#e39b1c"/></g>
<polyline fill="none" stroke="#27c9cf" stroke-width="1.1" points="59.29,74.93 68.45,95.31 77.60,118.32 86.76,144.62 95.92,170.26 105.08,194.09 114.24,211.85 123.39,216.28 132.55,203.13 141.71,180.62 150.87,153.50 160.03,126.71 169.18,102.22 178.34,82.49 187.50,67.21 196.66,51.92 205.82,48.63 214.97,44.36 224.13,41.89 233.29,41.89 242.45,43.37 251.61,44.69 260.76,46.33 269.92,47.81 279.08,49.78 288.24,50.77 297.40,51.92 306.55,51.92 315.71,51.92 324.87,51.92 334.03,51.92 343.19,51.92 352.34,51.92 361.50,51.92 370.66,51.92 379.82,51.92 388.98,51.92 398.13,51.92 407.29,51.92 416.45,51.92 425.61,51.92 434.77,51.92 443.92,51.92 453.08,51.92 462.24,51.92 471.40,51.92 480.56,51.92 489.71,51.92 498.87,51.92 508.03,51.92 517.19,51.92 526.35,51.92"/>
<g><polygon points="62.39,74.93 57.29,72.03 57.29,77.83" fill="#27c9cf"/><polygon points="71.55,95.31 66.45,92.41 66.45,98.21" fill="#27c9cf"/><polygon points="80.70,118.32 75.60,115.42 75.60,121.22" fill="#27c9cf"/><polygon points="89.86,144.62 84.76,141.72 84.76,147.52" fill="#27c9cf"/><polygon points="99.02,170.26 93.92,167.36 93.92,173.16" fill="#27c9cf"/><polygon points="108.18,194.09 103.08,191.19 103.08,196.99" fill="#27c9cf"/><polygon points="117.34,211.85 112.24,208.95 112.24,214.75" fill="#27c9cf"/><polygon points="126.49,216.28 121.39,213.38 121.39,219.18" fill="#27c9cf"/><polygon points="135.65,203.13 130.55,200.23 130.55,206.03" fill="#27c9cf"/><polygon points="144.81,180.62 139.71,177.72 139.71,183.52" fill="#27c9cf"/><polygon points="153.97,153.50 148.87,150.60 148.87,156.40" fill="#27c9cf"/><polygon points="163.13,126.71 158.03,123.81 158.03,129.61" fill="#27c9cf"/><polygon points="172.28,102.22 167.18,99.32 167.18,105.12" fill="#27c9cf"/><polygon points="181.44,82.49 176.34,79.59 176.34,85.39" fill="#27c9cf"/><polygon points="190.60,67.21 185.50,64.31 185.50,70.11" fill="#27c9cf"/><polygon points="199.76,51.92 194.66,49.02 194.66,54.82" fill="#27c9cf"/><polygon points="208.92,48.63 203.82,45.73 203.82,51.53" fill="#27c9cf"/><polygon points="218.07,44.36 212.97,41.46 212.97,47.26" fill="#27c9cf"/><polygon points="227.23,41.89 222.13,38.99 222.13,44.79" fill="#27c9cf"/><polygon points="236.39,41.89 231.29,38.99 231.29,44.79" fill="#27c9cf"/><polygon points="245.55,43.37 240.45,40.47 240.45,46.27" fill="#27c9cf"/><polygon points="254.71,44.69 249.61,41.79 249.61,47.59" fill="#27c9cf"/><polygon points="263.86,46.33 258.76,43.43 258.76,49.23" fill="#27c9cf"/><polygon points="273.02,47.81 267.92,44.91 267.92,50.71" fill="#27c9cf"/><polygon points="282.18,49.78 277.08,46.88 277.08,52.68" fill="#27c9cf"/><polygon points="291.34,50.77 286.24,47.87 286.24,53.67" fill="#27c9cf"/><polygon points="300.50,51.92 295.40,49.02 295.40,54.82" fill="#27c9cf"/><polygon points="309.65,51.92 304.55,49.02 304.55,54.82" fill="#27c9cf"/><polygon points="318.81,51.92 313.71,49.02 313.71,54.82" fill="#27c9cf"/><polygon points="327.97,51.92 322.87,49.02 322.87,54.82" fill="#27c9cf"/><polygon points="337.13,51.92 332.03,49.02 332.03,54.82" fill="#27c9cf"/><polygon points="346.29,51.92 341.19,49.02 341.19,54.82" fill="#27c9cf"/><polygon points="355.44,51.92 350.34,49.02 350.34,54.82" fill="#27c9cf"/><polygon points="364.60,51.92 359.50,49.02 359.50,54.82" fill="#27c9cf"/><polygon points="373.76,51.92 368.66,49.02 368.66,54.82" fill="#27c9cf"/><polygon points="382.92,51.92 377.82,49.02 377.82,54.82" fill="#27c9cf"/><polygon points="392.08,51.92 386.98,49.02 386.98,54.82" fill="#27c9cf"/><polygon points="401.23,51.92 396.13,49.02 396.13,54.82" fill="#27c9cf"/><polygon points="410.39,51.92 405.29,49.02 405.29,54.82" fill="#27c9cf"/><polygon points="419.55,51.92 414.45,49.02 414.45,54.82" fill="#27c9cf"/><polygon points="428.71,51.92 423.61,49.02 423.61,54.82" fill="#27c9cf"/><polygon points="437.87,51.92 432.77,49.02 432.77,54.82" fill="#27c9cf"/><polygon points="447.02,51.92 441.92,49.02 441.92,54.82" fill="#27c9cf"/><polygon points="456.18,51.92 451.08,49.02 451.08,54.82" fill="#27c9cf"/><polygon points="465.34,51.92 460.24,49.02 460.24,54.82" fill="#27c9cf"/><polygon points="474.50,51.92 469.40,49.02 469.40,54.82" fill="#27c9cf"/><polygon points="483.66,51.92 478.56,49.02 478.56,54.82" fill="#27c9cf"/><polygon points="492.81,51.92 487.71,49.02 487.71,54.82" fill="#27c9cf"/><polygon points="501.97,51.92 496.87,49.02 496.87,54.82" fill="#27c9cf"/><polygon points="511.13,51.92 506.03,49.02 506.03,54.82" fill="#27c9cf"/><polygon points="520.29,51.92 515.19,49.02 515.19,54.82" fill="#27c9cf"/><polygon points="529.45,51.92 524.35,49.02 524.35,54.82" fill="#27c9cf"/></g>
<g font-family="'Liberation Serif', serif" font-size="15.9px" fill="#000">
<path d="M305 112.60H341.3" stroke="#7f7f7f" stroke-width="1.2" fill="none"/>
<rect x="321.11" y="110.51" width="4.18" height="4.18" fill="#7f7f7f"/>
<text x="345.5" y="118.20">M19 damage 5%</text>
<path d="M305 132.32H341.3" stroke="#ff3c3c" stroke-width="1.2" fill="none"/>
<circle cx="323.20" cy="132.32" r="2.28" fill="#ff3c3c"/>
<text x="345.5" y="137.92">M19 damage 10%</text>
<path d="M305 152.04H341.3" stroke="#1a6fdf" stroke-width="1.2" fill="none"/>
<polygon points="323.20,149.09 325.95,153.94 320.44,153.94" fill="#1a6fdf"/>
<text x="345.5" y="157.64">M19 damage 15%</text>
<path d="M305 171.76H341.3" stroke="#22ae68" stroke-width="1.2" fill="none"/>
<polygon points="323.20,174.70 325.95,169.86 320.44,169.86" fill="#22ae68"/>
<text x="345.5" y="177.36">M19 damage 20%</text>
<path d="M305 191.48H341.3" stroke="#c270e2" stroke-width="1.2" fill="none"/>
<polygon points="323.20,188.72 325.95,191.48 323.20,194.23 320.44,191.48" fill="#c270e2"/>
<text x="345.5" y="197.08">M19 damage 30%</text>
<path d="M305 211.20H341.3" stroke="#e39b1c" stroke-width="1.2" fill="none"/>
<polygon points="320.25,211.20 325.10,208.44 325.10,213.95" fill="#e39b1c"/>
<text x="345.5" y="216.80">M19 damage 40%</text>
<path d="M305 230.92H341.3" stroke="#27c9cf" stroke-width="1.2" fill="none"/>
<polygon points="326.14,230.92 321.30,228.16 321.30,233.67" fill="#27c9cf"/>
<text x="345.5" y="236.52">M19 damage 50%</text>
</g>
</svg>
</body></html>
